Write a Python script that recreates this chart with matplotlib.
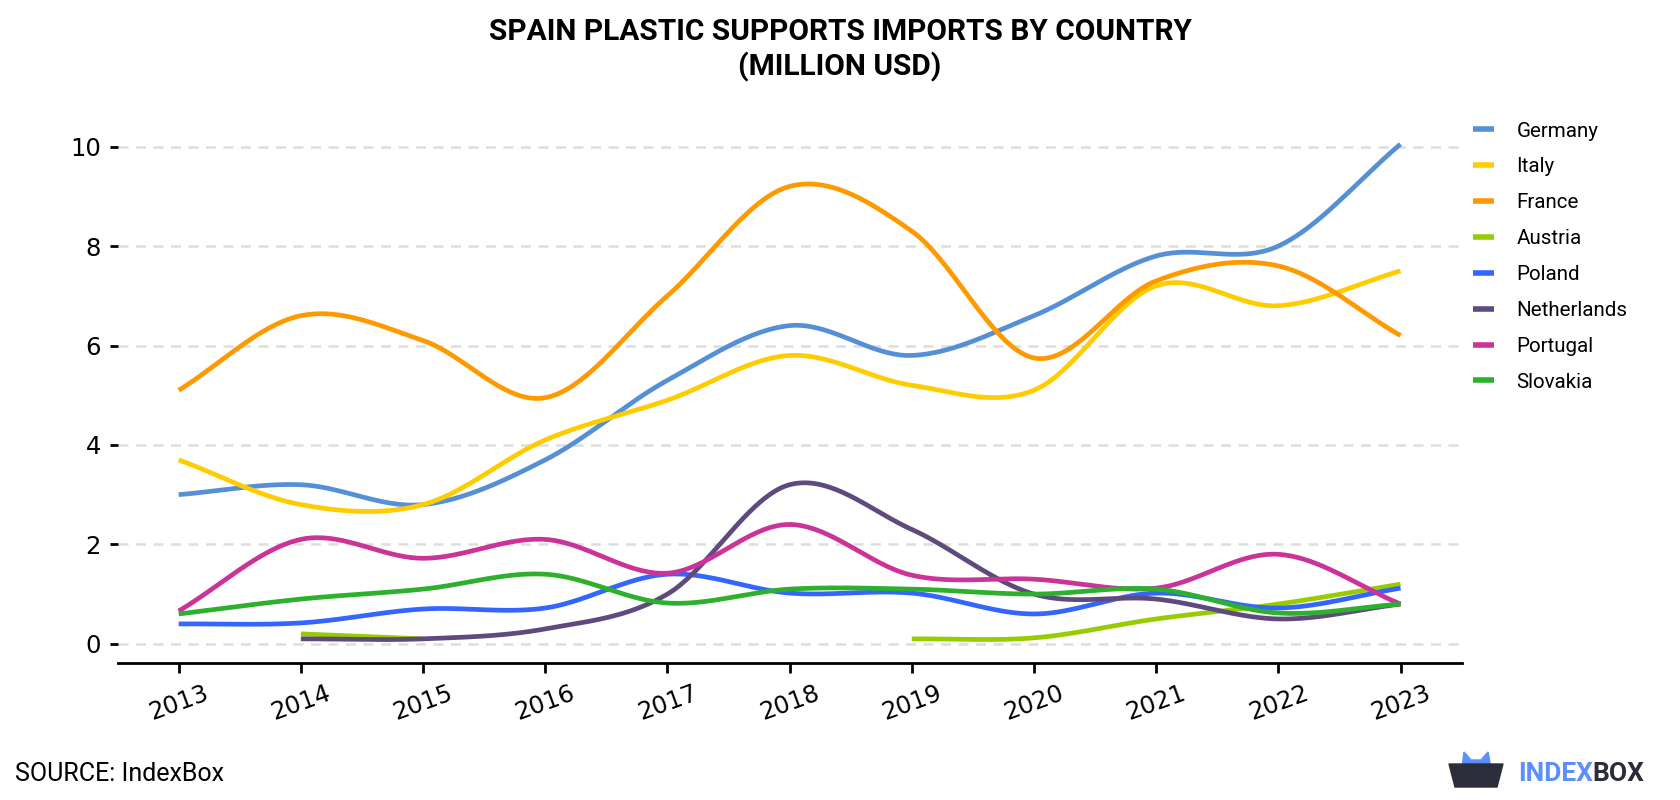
import numpy as np
import matplotlib.pyplot as plt
from matplotlib.patches import Polygon

plt.rcParams['font.family'] = ['Roboto', 'DejaVu Sans']

# Data (million USD)
years = [2013, 2014, 2015, 2016, 2017, 2018, 2019, 2020, 2021, 2022, 2023]
germany = [3.0, 3.2, 2.8, 3.7, 5.3, 6.4, 5.8, 6.6, 7.8, 8.0, 10.05]
italy = [3.7, 2.8, 2.8, 4.1, 4.9, 5.8, 5.2, 5.1, 7.2, 6.8, 7.5]
france = [5.1, 6.6, 6.1, 4.95, 7.0, 9.2, 8.3, 5.75, 7.3, 7.6, 6.2]
austria = [None, 0.2, 0.1, None, None, None, 0.1, 0.12, 0.5, 0.8, 1.2]
poland = [0.4, 0.42, 0.7, 0.72, 1.4, 1.02, 1.02, 0.6, 1.02, 0.72, 1.12]
netherlands = [None, 0.1, 0.1, 0.3, 1.0, 3.2, 2.3, 1.0, 0.9, 0.5, 0.8]
portugal = [0.66, 2.1, 1.72, 2.1, 1.42, 2.4, 1.38, 1.3, 1.12, 1.8, 0.8]
slovakia = [0.6, 0.9, 1.1, 1.4, 0.82, 1.1, 1.1, 1.0, 1.1, 0.62, 0.8]

series = [
    ('Germany', germany, '#5590d7'),
    ('Italy', italy, '#ffcc00'),
    ('France', france, '#ff9900'),
    ('Austria', austria, '#99cc00'),
    ('Poland', poland, '#3366ff'),
    ('Netherlands', netherlands, '#5f4a7e'),
    ('Portugal', portugal, '#cc3399'),
    ('Slovakia', slovakia, '#2db12d'),
]


def smooth(x, y, n=40):
    # Catmull-Rom curve through the points
    x = np.asarray(x, float)
    y = np.asarray(y, float)
    if len(x) < 3:
        t = np.linspace(0, 1, n)
        return x[0] + (x[-1] - x[0]) * t, y[0] + (y[-1] - y[0]) * t
    px = np.concatenate([[2 * x[0] - x[1]], x, [2 * x[-1] - x[-2]]])
    py = np.concatenate([[2 * y[0] - y[1]], y, [2 * y[-1] - y[-2]]])
    xs, ys = [], []
    t = np.linspace(0, 1, n)
    for i in range(1, len(px) - 2):
        for p, out in ((px, xs), (py, ys)):
            p0, p1, p2, p3 = p[i - 1], p[i], p[i + 1], p[i + 2]
            out.append(0.5 * (2 * p1 + (-p0 + p2) * t
                              + (2 * p0 - 5 * p1 + 4 * p2 - p3) * t ** 2
                              + (-p0 + 3 * p1 - 3 * p2 + p3) * t ** 3))
    return np.concatenate(xs), np.concatenate(ys)


fig = plt.figure(figsize=(16.8, 8), dpi=100)
ax = fig.add_axes([0.070, 0.171, 0.800, 0.683])

for name, vals, color in series:
    # split into runs without gaps
    runs, cur = [], []
    for yr, v in zip(years, vals):
        if v is None:
            if cur:
                runs.append(cur)
            cur = []
        else:
            cur.append((yr, v))
    if cur:
        runs.append(cur)
    first = True
    for run in runs:
        xr, yr_ = zip(*run)
        sx, sy = smooth(xr, yr_)
        ax.plot(sx, sy, color=color, lw=3.4, solid_capstyle='butt',
                label=name if first else None)
        first = False

ax.set_xlim(2012.5, 2023.5)
ax.set_ylim(-0.39, 10.6)
ax.set_yticks([0, 2, 4, 6, 8, 10])
ax.set_xticks(years)
ax.yaxis.grid(True, linestyle=(0, (4, 3)), color='#dddddd', lw=1.8)
ax.set_axisbelow(True)
for s in ('top', 'right', 'left'):
    ax.spines[s].set_visible(False)
ax.spines['bottom'].set_linewidth(2)
ax.tick_params(axis='x', length=7, width=2, pad=6)
ax.tick_params(axis='y', length=6, width=2, pad=6)
for lab in ax.get_xticklabels() + ax.get_yticklabels():
    lab.set_fontfamily('DejaVu Sans')
    lab.set_fontsize(17.5)
plt.setp(ax.get_xticklabels(), rotation=20, ha='center')

leg = ax.legend(loc='upper left', bbox_to_anchor=(0.995, 1.025), frameon=False,
                fontsize=14.8, handlelength=1.0, handletextpad=1.1,
                labelspacing=0.82)
for h in leg.get_lines():
    h.set_linewidth(4)

fig.text(0.5, 0.978, 'SPAIN PLASTIC SUPPORTS IMPORTS BY COUNTRY\n(MILLION USD)',
         ha='center', va='top', fontsize=21.5, fontweight='bold', linespacing=1.25)
fig.text(0.009, 0.033, 'SOURCE: IndexBox', ha='left', va='center', fontsize=18)

# IndexBox logo (pixel coordinates from bottom-left)
box = Polygon([[1449, 36], [1503, 36], [1497, 13], [1455, 13]], closed=True,
              transform=None, color='#2b2d3a')
ears = Polygon([[1462, 32], [1464, 48], [1471, 40], [1481, 40], [1488, 48],
                [1491, 32]], closed=True, transform=None, color='#5b8ff9')
fig.patches.extend([ears, box])
t1 = fig.text(0.9035, 0.032, 'INDEX', ha='left', va='center', fontsize=19,
              fontweight='bold', color='#5b8ff9')
fig.canvas.draw()
bb = t1.get_window_extent()
fig.text(bb.x1 / fig.bbox.width, 0.032, 'BOX', ha='left', va='center',
         fontsize=19, fontweight='bold', color='#2b2d3a')

fig.savefig('out.png', dpi=100)
